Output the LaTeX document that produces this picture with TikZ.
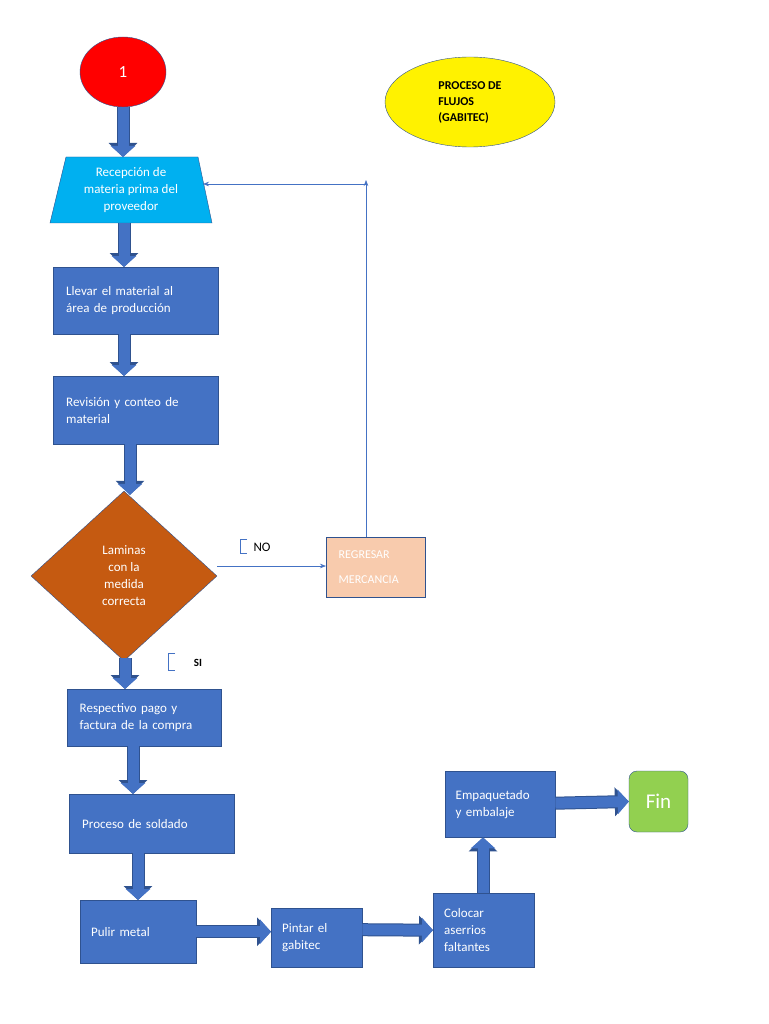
\documentclass[tikz,border=0pt]{standalone}
\usepackage{fontspec}
\setmainfont{Carlito}
\usetikzlibrary{shapes.geometric,arrows.meta,calc}
\definecolor{bb}{RGB}{68,114,196}
\definecolor{bbd}{RGB}{47,82,143}
\definecolor{cy}{RGB}{0,176,240}
\definecolor{dor}{RGB}{197,90,17}
\definecolor{pch}{RGB}{248,203,173}
\definecolor{gr}{RGB}{146,208,80}
\newcommand\blkarr[2]{\draw[fat] #1 -- #2; \draw[fatin] #1 -- #2;}
\begin{document}
\begin{tikzpicture}[x=1pt,y=-1pt,
 box/.style={draw=bbd,fill=bb,text=white,font=\fontsize{13}{17}\selectfont,align=left,inner sep=0pt,anchor=north west},
 fat/.style={draw=bbd,line width=13pt,-{Triangle[width=28pt,length=14pt]}},
 fatin/.style={draw=bb,line width=11pt,-{Triangle[width=24pt,length=11pt]}},
 thin/.style={draw=bb,line width=0.6pt,-{Stealth[length=6pt]}}]
\useasboundingbox (0,0) rectangle (768,1024);
\fill[white] (0,0) rectangle (768,1024);
\node[ellipse,draw=bbd,fill=red,text=white,minimum width=86pt,minimum height=70pt,font=\fontsize{17}{20}\selectfont] (c1) at (123,72) {1};
\node[ellipse,draw=bbd,fill=yellow,minimum width=170pt,minimum height=90pt,font=\bfseries\fontsize{12}{16}\selectfont,align=left] (t) at (470,102) {PROCESO DE\\FLUJOS\\(GABITEC)};
\path[draw=bbd,fill=cy] (66,157) -- (198,157) -- (212,223) -- (50,223) -- cycle;
\node[text=white,align=center,font=\fontsize{13}{17}\selectfont] (tr) at (131,190) {Recepción de\\materia prima del\\proveedor};
\coordinate (trT) at (123,157); \coordinate (trB) at (124,223); \coordinate (trR) at (203,184);
\node[box,minimum width=165pt,minimum height=67pt,text width=155pt] (b1) at (53,267) {\hspace*{8pt}Llevar el material al\\\hspace*{8pt}área de producción};
\node[box,minimum width=165pt,minimum height=68pt,text width=155pt] (b2) at (53,376) {\hspace*{8pt}Revisión y conteo de\\\hspace*{8pt}material};
\node[diamond,draw=bbd,fill=dor,text=white,minimum width=186pt,minimum height=170pt,inner sep=0pt,align=center,font=\fontsize{13}{17}\selectfont,aspect=1.1] (d) at (124,576) {Laminas\\con la\\medida\\correcta};
\node[box,fill=pch,draw=bbd,minimum width=99pt,minimum height=60pt,text width=90pt,font=\fontsize{12}{25}\selectfont] (rg) at (326,537) {\hspace*{8pt}REGRESAR\\\hspace*{8pt}MERCANCIA};
\node[font=\fontsize{13}{15}\selectfont] (no) at (262,547) {NO};
\draw[bb,line width=0.6pt] (247,539) -- (240,539) -- (240,553) -- (247,553);
\node[font=\bfseries\fontsize{11}{15}\selectfont] (si) at (198,663) {SI};
\draw[bb,line width=0.6pt] (175,653) -- (168,653) -- (168,670) -- (175,670);
\node[box,minimum width=154pt,minimum height=57pt,text width=145pt] (b3) at (67,689) {\hspace*{8pt}Respectivo pago y\\\hspace*{8pt}factura de la compra};
\node[box,minimum width=165pt,minimum height=59pt,text width=155pt] (b4) at (69,794) {\hspace*{8pt}Proceso de soldado};
\node[box,minimum width=116pt,minimum height=63pt,text width=110pt] (b5) at (80,900) {\hspace*{8pt}Pulir metal};
\node[box,minimum width=91pt,minimum height=59pt,text width=85pt] (b6) at (271,908) {\hspace*{8pt}Pintar el\\\hspace*{8pt}gabitec};
\node[box,minimum width=101pt,minimum height=74pt,text width=95pt] (b7) at (433,893) {\hspace*{8pt}Colocar\\\hspace*{8pt}aserrios\\\hspace*{8pt}faltantes};
\node[box,minimum width=110pt,minimum height=66pt,text width=105pt] (b8) at (445,771) {\hspace*{8pt}Empaquetado\\\hspace*{8pt}y embalaje};
\node[draw=bbd,fill=gr,text=white,rounded corners=8pt,minimum width=59pt,minimum height=61pt,font=\fontsize{21}{24}\selectfont] (fin) at (658.5,801.5) {Fin};
\blkarr{(c1.south)}{(trT)}
\blkarr{(trB)}{(b1.north -| trB)}
\blkarr{(b1.south -| trB)}{(b2.north -| trB)}
\blkarr{($(b2.south west)+(77,0)$)}{($(d.north)+(6,4)$)}
\blkarr{($(d.south)+(1,-3)$)}{($(b3.north west)+(58,0)$)}
\blkarr{($(b3.south west)+(66,0)$)}{($(b4.north west)+(64,0)$)}
\blkarr{($(b4.south west)+(69,0)$)}{($(b5.north west)+(58,0)$)}
\blkarr{($(b5.east)+(0,0)$)}{($(b6.west)+(0,-6)$)}
\blkarr{($(b6.east)+(0,-8)$)}{(b7.west)}
\blkarr{($(b7.north west)+(50,0)$)}{($(b8.south west)+(38,0)$)}
\blkarr{($(b8.east)+(0,-1)$)}{(fin.west)}
\draw[thin] ($(d.east)+(0,-10)$) -- ($(rg.north west)+(0,29)$);
\coordinate (up) at (366,180);
\draw[thin] ($(rg.north west)+(40,0)$) -- (up);
\draw[thin] (366,184) -- (trR);
\end{tikzpicture}
\end{document}
